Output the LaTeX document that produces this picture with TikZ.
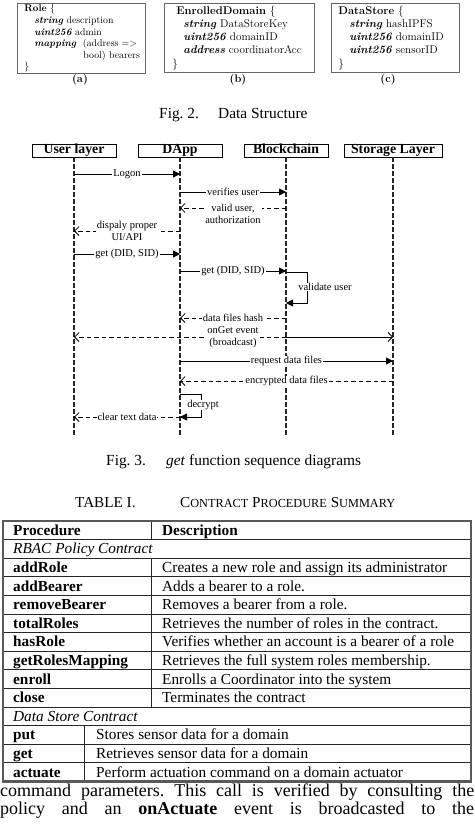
\documentclass[tikz,border=0pt]{standalone}
\usepackage{fontspec}
\newfontfamily\tnr{Liberation Serif}
\usetikzlibrary{arrows.meta}

\newcommand{\strtype}[1]{\textbf{\textit{#1}}}
\newcommand{\fakesc}[2]{#1{\fontsize{12.3}{14}\selectfont #2}}
\frenchspacing

\begin{document}
\begin{tikzpicture}[x=1pt, y=-1pt, node distance={106pt},
    struct/.style = {draw=black!60, line width=0.9pt, anchor=north west, align=left, inner ysep=0pt},
    sub/.style = {inner sep=0pt, font=\bfseries\fontsize{11}{13}\selectfont},
    figcap/.style = {anchor=base west, inner sep=0pt, font=\tnr\fontsize{15.4}{18}\selectfont},
    head/.style = {draw, line width=0.8pt, minimum width=84pt, text height=9.5pt, text depth=2.6pt, inner xsep=0pt, inner ysep=0.45pt, font=\tnr\bfseries\fontsize{13.8}{15}\selectfont},
    life/.style = {black!85, line width=1.3pt, dash pattern=on 4.5pt off 2.5pt},
    msg/.style = {line width=0.8pt, -{Triangle[length=7pt, width=7pt]}},
    ret/.style = {line width=0.8pt, dash pattern=on 4.5pt off 3pt, -{Straight Barb[length=4.5pt, width=9pt]}},
    evt/.style = {line width=0.8pt, -{Straight Barb[length=4.5pt, width=9pt]}},
    lbl/.style = {fill=white, inner xsep=1pt, inner ysep=0.5pt, align=center, font=\tnr\fontsize{10.5}{12.5}\selectfont},
    tabframe/.style = {black!65, line width=2.2pt},
    tabrule/.style = {black!85, line width=1pt},
    th/.style = {anchor=base west, inner sep=0pt, font=\tnr\bfseries\fontsize{15.3}{18}\selectfont},
    td/.style = {anchor=base west, inner sep=0pt, font=\tnr\fontsize{15.3}{18}\selectfont},
    sec/.style = {anchor=base west, inner sep=0pt, font=\tnr\itshape\fontsize{15.3}{18}\selectfont},
    body/.style = {anchor=base west, inner sep=0pt, font=\tnr\fontsize{18}{18}\selectfont}]

    \path[fill=white, use as bounding box] (0,0) rectangle (474,824);

    % Fig. 2: data structures
    \node[struct, minimum width=128pt, minimum height=70pt, text width=114pt, inner xsep=7pt,
          font=\fontsize{9.8}{11.6}\selectfont] (role) at (17,3)
        {\textbf{Role} \{\\
         \hspace*{10pt}\strtype{string} description\\
         \hspace*{10pt}\strtype{uint256} admin\\
         \hspace*{10pt}\strtype{mapping}\hspace{6.5pt}\mbox{(address =>}\\
         \hspace*{59pt}\mbox{bool) bearers}\\
         \}};
    \node[struct, minimum width=150pt, minimum height=69pt, text width=134pt, inner xsep=8pt,
          font=\fontsize{11.2}{13.2}\selectfont] (domain) at (164,3)
        {\hspace*{4pt}\textbf{EnrolledDomain} \{\\
         \hspace*{11pt}\strtype{string} DataStoreKey\\
         \hspace*{11pt}\strtype{uint256} domainID\\
         \hspace*{11pt}\strtype{address} coordinatorAcc\\
         \}};
    \node[struct, minimum width=128pt, minimum height=69pt, text width=114pt, inner xsep=7pt,
          font=\fontsize{11.2}{13.2}\selectfont] (store) at (331,3)
        {\textbf{DataStore} \{\\
         \hspace*{11pt}\strtype{string} hashIPFS\\
         \hspace*{11pt}\strtype{uint256} domainID\\
         \hspace*{11pt}\strtype{uint256} sensorID\\
         \}};
    \node[sub] (suba) at (80,80) {(a)};
    \node[sub] (subb) at (238,80) {(b)};
    \node[sub] (subc) at (388,80) {(c)};

    \node[figcap] (fig2) at (159,119) {Fig. 2.};
    \node[figcap] (fig2t) at (218,119) {Data Structure};

    % Fig. 3: sequence diagram
    \node[head] (user) at (74,150.5) {User layer};
    \node[head] (dapp) [right of=user] {DApp};
    \node[head] (chain) [right of=dapp] {Blockchain};
    \node[head, minimum width=98pt] (disk) at (393,150.5) {Storage Layer};

    \draw[life] (user) -- (user |- 0,436);
    \draw[life] (dapp) -- (dapp |- 0,436);
    \draw[life] (chain) -- (chain |- 0,436);
    \draw[life] (disk) -- (disk |- 0,436);

    \draw[msg] (user |- 0,174) -- node[lbl] (logon) {Logon} (dapp |- 0,174);
    \draw[msg] (dapp |- 0,192) -- node[lbl] (verify) {verifies user} (chain |- 0,192);
    \draw[ret] (chain |- 0,208) -- node[lbl, yshift=-6pt] (valid) {valid user,\\authorization} (dapp |- 0,208);
    \draw[ret] (dapp |- 0,231) -- node[lbl] (show) {dispaly proper\\UI/API} (user |- 0,231);
    \draw[msg] (user |- 0,254) -- node[lbl] (get1) {get (DID, SID)} (dapp |- 0,254);
    \draw[msg] (dapp |- 0,271) -- node[lbl] (get2) {get (DID, SID)} (chain |- 0,271);
    \draw[msg] (chain |- 0,272) -- ++(21,0) -- ++(0,31) -- (chain |- 0,303);
    \node[lbl] (check) at (325,287) {validate user};
    \draw[ret] (chain |- 0,318) -- node[lbl] (hash) {data files hash} (dapp |- 0,318);
    \draw[ret] (chain |- 0,337) -- node[lbl, pos=0.25] (onget) {onGet event\\(broadcast)} (user |- 0,337);
    \draw[evt] (chain |- 0,337) -- (disk |- 0,337);
    \draw[msg] (dapp |- 0,361) -- node[lbl] (req) {request data files} (disk |- 0,361);
    \draw[ret] (disk |- 0,381) -- node[lbl] (enc) {encrypted data files} (dapp |- 0,381);
    \draw[msg] (dapp |- 0,394) -- ++(21,0) -- ++(0,23) -- (dapp |- 0,417);
    \node[lbl] (dec) at (203,405) {decrypt};
    \draw[ret] (dapp |- 0,417) -- node[lbl] (clear) {clear text data} (user |- 0,417);

    \node[figcap] (fig3) at (106,465) {Fig. 3.};
    \node[figcap] (fig3t) at (166,465) {\textit{get} function sequence diagrams};

    % Table I
    \node[figcap, font=\tnr\fontsize{15.2}{18}\selectfont] (tab) at (75,507) {TABLE I.};
    \node[figcap, font=\tnr\fontsize{15.2}{18}\selectfont] (tabt) at (180,507)
        {\fakesc{C}{ONTRACT} \fakesc{P}{ROCEDURE} \fakesc{S}{UMMARY}};

    \draw[tabrule] (3,539.6) -- (471,539.6) (3,558.2) -- (471,558.2) (3,576.8) -- (471,576.8)
        (3,595.4) -- (471,595.4) (3,614) -- (471,614) (3,632.6) -- (471,632.6)
        (3,651.2) -- (471,651.2) (3,669.8) -- (471,669.8) (3,688.4) -- (471,688.4)
        (3,707) -- (471,707) (3,725.6) -- (471,725.6) (3,744.2) -- (471,744.2)
        (3,762.8) -- (471,762.8);
    \draw[tabrule] (151,521) -- (151,539.6) (151,558.2) -- (151,707) (84,725.6) -- (84,781.4);
    \draw[tabframe] (3,521) rectangle (471,781.4);

    \node[th] (hproc) at (13,535.3) {Procedure};
    \node[th] (hdesc) at (162,535.3) {Description};
    \node[sec] (rbac) at (13,553.9) {RBAC Policy Contract};
    \node[th] (addrole) at (13,572.5) {addRole};
    \node[td] (addroled) at (162,572.5) {Creates a new role and assign its administrator};
    \node[th] (addbear) at (13,591.1) {addBearer};
    \node[td] (addbeard) at (162,591.1) {Adds a bearer to a role.};
    \node[th] (rembear) at (13,609.7) {removeBearer};
    \node[td] (rembeard) at (162,609.7) {Removes a bearer from a role.};
    \node[th] (total) at (13,628.3) {totalRoles};
    \node[td] (totald) at (162,628.3) {Retrieves the number of roles in the contract.};
    \node[th] (has) at (13,646.9) {hasRole};
    \node[td] (hasd) at (162,646.9) {Verifies whether an account is a bearer of a role};
    \node[th] (rmap) at (13,665.5) {getRolesMapping};
    \node[td] (rmapd) at (162,665.5) {Retrieves the full system roles membership.};
    \node[th] (enroll) at (13,684.1) {enroll};
    \node[td] (enrolld) at (162,684.1) {Enrolls a Coordinator into the system};
    \node[th] (close) at (13,702.7) {close};
    \node[td] (closed) at (162,702.7) {Terminates the contract};
    \node[sec] (dsc) at (13,721.3) {Data Store Contract};
    \node[th] (put) at (13,739.9) {put};
    \node[td] (putd) at (96,739.9) {Stores sensor data for a domain};
    \node[th] (get) at (13,758.5) {get};
    \node[td] (getd) at (96,758.5) {Retrieves sensor data for a domain};
    \node[th] (act) at (13,777.1) {actuate};
    \node[td] (actd) at (96,777.1) {Perform actuation command on a domain actuator};

    % running text
    \node[body] (line1) at (0,796) {\makebox[474pt][s]{command parameters. This call is verified by consulting the}};
    \node[body] (line2) at (0,814) {\makebox[474pt][s]{policy and an \textbf{onActuate} event is broadcasted to the}};
\end{tikzpicture}
\end{document}
